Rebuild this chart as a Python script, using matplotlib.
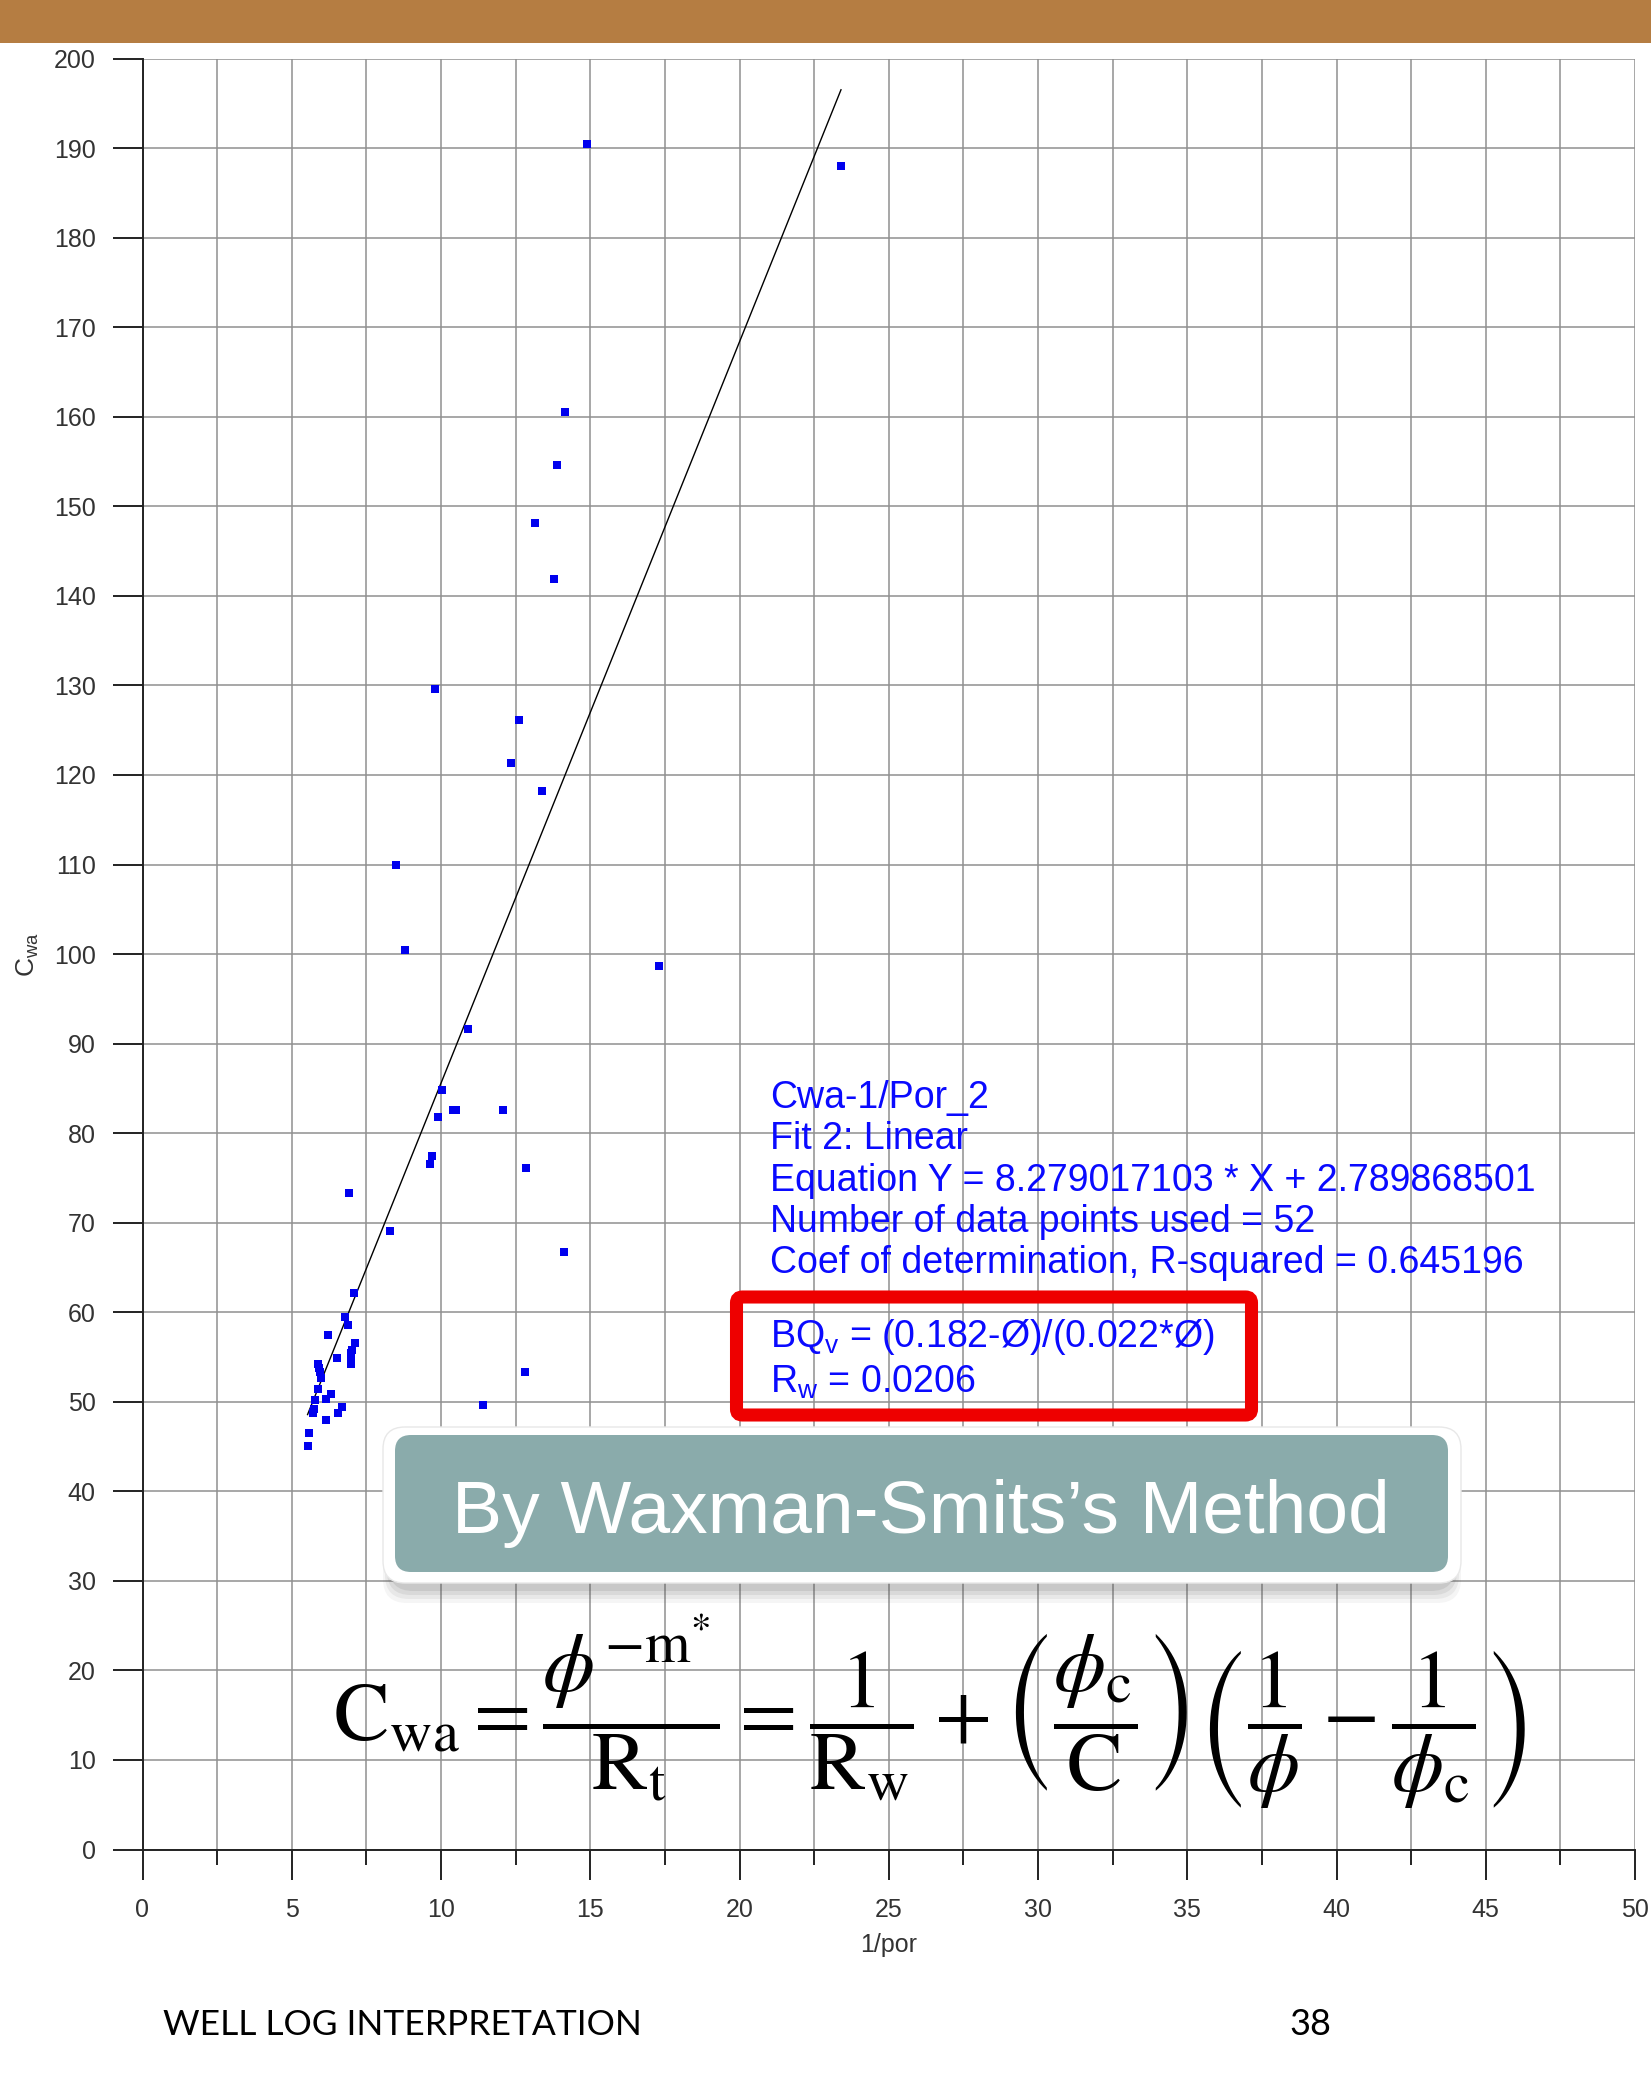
import matplotlib
matplotlib.use("Agg")
import numpy as np
import matplotlib.pyplot as plt
from matplotlib.patches import FancyBboxPatch, Rectangle

plt.rcParams['font.family'] = ['Liberation Sans', 'DejaVu Sans']
plt.rcParams['mathtext.fontset'] = 'custom'
plt.rcParams['mathtext.rm'] = 'Liberation Sans'
plt.rcParams['mathtext.it'] = 'Liberation Sans:italic'

# data: 1/porosity vs apparent water conductivity
inv_por = [14.89, 23.4, 14.15, 13.88, 13.14, 13.77, 9.79, 12.61, 12.35, 13.4,
           8.5, 8.8, 17.3, 10.89, 10.03, 10.39, 10.5, 12.07, 9.89, 9.69,
           9.62, 12.86, 6.92, 8.29, 14.12, 12.8, 11.41, 7.10, 6.79, 6.90,
           6.21, 7.13, 7.01, 6.99, 6.53, 6.99, 5.89, 5.95, 5.97, 5.89,
           6.32, 6.15, 5.78, 6.68, 5.76, 5.70, 6.54, 6.15, 5.59, 5.53,
           7.00, 5.92]
cwa = [190.5, 188.0, 160.5, 154.6, 148.1, 141.9, 129.6, 126.1, 121.3, 118.2,
       110.0, 100.5, 98.7, 91.6, 84.8, 82.6, 82.6, 82.6, 81.8, 77.4,
       76.5, 76.1, 73.35, 69.1, 66.7, 53.3, 49.6, 62.1, 59.5, 58.6,
       57.5, 56.6, 55.8, 55.0, 54.9, 54.2, 54.2, 53.3, 52.7, 51.4,
       50.9, 50.3, 50.2, 49.4, 49.2, 48.7, 48.7, 48.0, 46.5, 45.1,
       55.4, 53.8]

fit_slope = 8.279017103
fit_icpt = 2.789868501
fit_x = np.array([5.53, 23.4])

info_lines = ["Cwa-1/Por_2",
              "Fit 2: Linear",
              "Equation Y = 8.279017103 * X + 2.789868501",
              "Number of data points used = 52",
              "Coef of determination, R-squared = 0.645196"]
box_lines = [r"BQ$_{\mathrm{v}}$ = (0.182-Ø)/(0.022*Ø)",
             r"R$_{\mathrm{w}}$ = 0.0206"]

W, H = 1651, 2088
fig = plt.figure(figsize=(W / 100, H / 100), dpi=100)
fig.patch.set_facecolor('white')

L, R, T, B = 142.5, 1635, 58.6, 1849.5
ax = fig.add_axes([L / W, 1 - B / H, (R - L) / W, (B - T) / H])
ax.set_xlim(0, 50)
ax.set_ylim(0, 200)
ax.set_xticks(np.arange(0, 51, 5))
ax.set_xticks(np.arange(2.5, 50, 5), minor=True)
ax.set_yticks(np.arange(0, 201, 10))
ax.grid(True, which='both', axis='x', color='#8f8f8f', lw=1.1)
ax.grid(True, which='major', axis='y', color='#8f8f8f', lw=1.1)
ax.set_axisbelow(True)
for s in ['top', 'right']:
    ax.spines[s].set_visible(False)
for s in ['left', 'bottom']:
    ax.spines[s].set_linewidth(1.4)
    ax.spines[s].set_color('#222222')
ax.tick_params(which='major', direction='out', length=21.6, width=1.4,
               labelsize=18, labelcolor='#333333', color='#222222')
ax.tick_params(axis='x', which='major', pad=13)
ax.tick_params(axis='y', which='major', pad=12)
ax.tick_params(axis='x', which='minor', direction='out', length=10.8, width=1.4, color='#222222')
ax.set_xlabel("1/por", fontsize=18, color='#333333', labelpad=8)
ax.set_ylabel(r"C$_{\mathrm{wa}}$", fontsize=19, color='#333333', labelpad=9)

ax.plot(fit_x, fit_slope * fit_x + fit_icpt, color='black', lw=1.0, zorder=3)
ax.plot(inv_por, cwa, 's', color='#0000ee', ms=5.3, mew=0, zorder=4)

# overlay in pixel units for the slide decorations
ov = fig.add_axes([0, 0, 1, 1], zorder=10)
ov.set_xlim(0, W)
ov.set_ylim(H, 0)
ov.axis('off')
ov.patch.set_alpha(0)

ov.add_patch(Rectangle((0, 0), W, 43, color='#b57d42', lw=0))

blue = '#0a0aff'
for i, s in enumerate(info_lines):
    ov.text(770, 1108 + i * 41.3, s, fontsize=27, color=blue, va='baseline', ha='left')
ov.text(770, 1347, box_lines[0], fontsize=27, color=blue, va='baseline', ha='left')
ov.text(770, 1393, box_lines[1], fontsize=27, color=blue, va='baseline', ha='left')
ov.add_patch(FancyBboxPatch((736.5, 1297), 515, 118,
                            boxstyle="round,pad=0,rounding_size=6",
                            fill=False, ec='#ee0000', lw=9.4))

# banner with a soft shadow
for k, a in enumerate([0.06, 0.08, 0.10, 0.12]):
    off = 20 - 4 * k
    ov.add_patch(FancyBboxPatch((383 + k * 2, 1427 + off), 1078 - k * 4, 156,
                                boxstyle="round,pad=0,rounding_size=24",
                                fc='#555555', ec='none', alpha=a))
ov.add_patch(FancyBboxPatch((383, 1427), 1078, 156,
                            boxstyle="round,pad=0,rounding_size=22",
                            fc='white', ec='#e8e8e8', lw=1))
ov.add_patch(FancyBboxPatch((395, 1435), 1053, 137,
                            boxstyle="round,pad=0,rounding_size=16",
                            fc='#8aabab', ec='none'))
ov.text(921, 1533, "By Waxman-Smits\u2019s Method", fontsize=54, color='white',
        ha='center', va='baseline')

formula = (r"$\mathrm{C}_{\mathrm{wa}} = \dfrac{\phi^{-\mathrm{m}^{*}}}{\mathrm{R}_{\mathrm{t}}}"
           r" = \dfrac{1}{\mathrm{R}_{\mathrm{w}}} + \left(\dfrac{\phi_{\mathrm{c}}}{\mathrm{C}}\right)"
           r"\left(\dfrac{1}{\phi} - \dfrac{1}{\phi_{\mathrm{c}}}\right)$")
ov.text(930, 1712, formula, fontsize=60, color='black', ha='center', va='center',
        math_fontfamily='stix')

ov.text(163, 2035, "WELL LOG INTERPRETATION", fontsize=25.5, color='black',
        ha='left', va='baseline', family=['Lato', 'DejaVu Sans'])
ov.text(1310, 2035, "38", fontsize=26, color='black',
        ha='center', va='baseline', family=['Lato', 'DejaVu Sans'])

fig.savefig("out.png", dpi=100, facecolor='white')
